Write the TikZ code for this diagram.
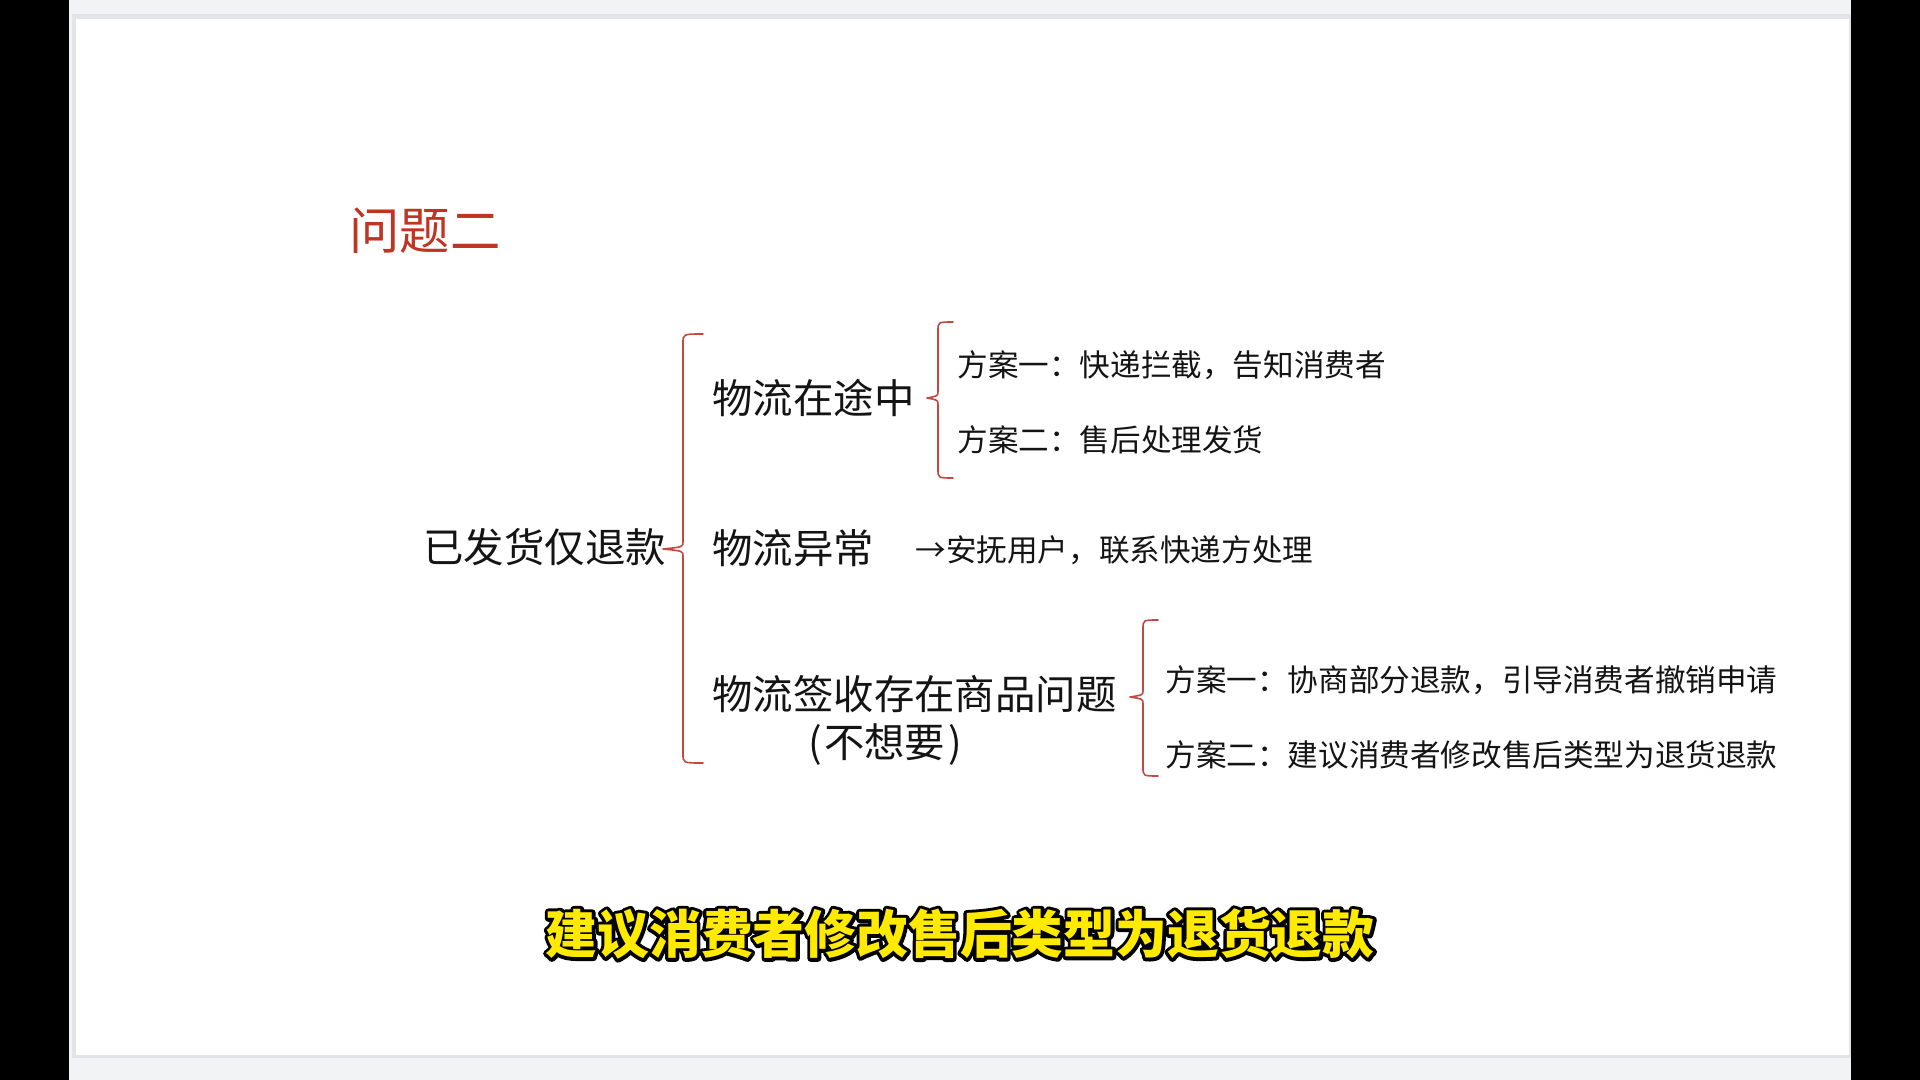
\documentclass[tikz,border=0pt]{standalone}
\usepackage{fontspec}
\newfontfamily\cjk{Noto Sans CJK SC}
\usetikzlibrary{calc}
\definecolor{titlered}{RGB}{192,52,34}
\definecolor{bracered}{RGB}{196,72,66}
\definecolor{txt}{RGB}{20,20,20}
\definecolor{subyellow}{RGB}{255,234,0}
\definecolor{frame}{RGB}{242,243,245}
\definecolor{shadowgray}{RGB}{226,228,231}
\tikzset{
  lbl/.style={inner sep=0pt, anchor=west, text=txt, font=\cjk\fontsize{20.2pt}{24pt}\selectfont},
  sml/.style={inner sep=0pt, anchor=west, text=txt, font=\cjk\fontsize{15.3pt}{18pt}\selectfont},
  ttl/.style={inner sep=0pt, anchor=west, text=titlered, font=\cjk\fontsize{25.2pt}{29pt}\selectfont},
  subtxt/.style={inner sep=0pt, font=\cjk\bfseries\fontsize{25.9pt}{30pt}\selectfont},
  bracestyle/.style={draw=bracered, line width=0.8pt, line cap=round, line join=round}
}
\newcommand{\mybrace}[6]{% xv, top, bottom, tipx, tipy, hookright
  \draw[bracestyle] (#6,#2) .. controls (#1,#2) and (#1,#2) .. (#1,#2+9)
    -- (#1,#5-7) .. controls (#1,#5-2) .. (#4,#5)
    .. controls (#1,#5+2) .. (#1,#5+7)
    -- (#1,#3-9) .. controls (#1,#3) and (#1,#3) .. (#6,#3);}
\newcommand{\outlinedtext}[1]{%
  \makebox[0pt][l]{\special{pdf:literal direct 1 j 0 0 0 RG 3.4 w 2 Tr}\textcolor{black}{#1}\special{pdf:literal direct 0 Tr}}%
  \textcolor{subyellow}{#1}}
\begin{document}
\begin{tikzpicture}[x=0.5pt,y=-0.5pt]
\useasboundingbox (0,0) rectangle (1920,1080);
% background frame
\fill[black] (0,0) rectangle (1920,1080);
\fill[frame] (69,0) rectangle (1851,1080);
\fill[shadowgray] (72,14) rectangle (1851,1058);
\fill[white] (76,19) rectangle (1849,1055);
% title
\node[ttl] (title) at (349,231) {问题二};
% main tree
\node[lbl] (root) at (423,547) {已发货仅退款};
\node[lbl] (a1) at (712,398) {物流在途中};
\node[lbl] (a2) at (712,548) {物流异常};
\node[lbl] (a3) at (712,694) {物流签收存在商品问题};
\node[lbl] (a3b) at (808,745) {(\kern1pt 不想要\kern1.5pt)};
% leaves
\node[sml] (b11) at (957,365) {方案一：快递拦截，告知消费者};
\node[sml] (b12) at (957,440) {方案二：售后处理发货};
\node[sml] (b2) at (915,550) {→安抚用户，联系快递方处理};
\node[sml] (b31) at (1165,680) {方案一：协商部分退款，引导消费者撤销申请};
\node[sml] (b32) at (1165,755) {方案二：建议消费者修改售后类型为退货退款};
% braces
\mybrace{683}{334}{763}{663}{549}{703}
\mybrace{938}{322}{478}{927}{398}{953}
\mybrace{1143}{620}{776}{1130}{697}{1158}
% subtitle
\node[subtxt] (sub) at (960,934) {\outlinedtext{建议消费者修改售后类型为退货退款}};
\end{tikzpicture}
\end{document}
